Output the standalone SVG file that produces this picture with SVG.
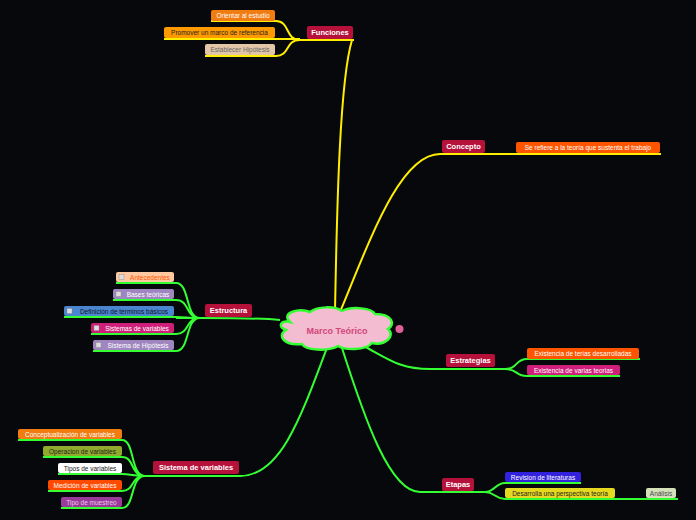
<svg xmlns="http://www.w3.org/2000/svg" width="696" height="520" viewBox="0 0 696 520">
<style>
.n rect{fill:#b5113a;rx:2}
.n text{font:bold 7.5px "Liberation Sans",sans-serif;fill:#fff;text-anchor:middle}
.c text{font:6.5px "Liberation Sans",sans-serif;text-anchor:middle}
.y{stroke:#ffee00;fill:none;stroke-width:2}
.g{stroke:#33ff33;fill:none;stroke-width:2}
.cb{fill:#ddd;stroke:#888;stroke-width:.4}
</style>
<rect width="696" height="520" fill="#06080b"/>
<g id="connectors">
<path class="y" d="M335 312 C337 200 340 80 352 40"/>
<path class="y" d="M300 40 H354 M300 40 C285 40 290 21 276 21 H211 M164 39 H300 M300 40 C285 40 290 56 276 56 H205"/>
<path class="y" d="M340 312 C370 240 400 154 440 154 H661"/>
<path class="g" d="M280 320 C260 318 230 318 200 318 H176 M200 318 C185 318 190 283 176 283 H116 M200 318 C185 318 190 300 176 300 H113 M200 318 C188 318 185 317 176 317 H64 M200 318 C185 318 190 334 176 334 H91 M200 318 C185 318 190 351 176 351 H93"/>
<path class="g" d="M328 345 C300 420 280 476 240 476 H145 M145 476 C130 476 135 440 122 440 H18 M145 476 C130 476 135 457 122 457 H43 M145 476 C135 476 130 474 122 474 H58 M145 476 C130 476 135 491 122 491 H48 M145 476 C130 476 135 508 122 508 H61"/>
<path class="g" d="M362 345 C390 360 400 369 430 369 H505 C518 369 515 359 527 359 H640 M505 369 C518 369 515 376 527 376 H620"/>
<path class="g" d="M342 348 C365 420 390 492 420 492 H485 C495 492 495 483 505 483 H581 M485 492 C495 492 495 499 505 499 H678"/>
</g>
<g id="center">
<path d="M290 322 C280 312 300 308 310 312 C318 306 335 306 342 311 C352 306 372 308 375 314 C392 314 396 324 388 329 C396 336 385 346 372 343 C365 351 345 350 338 346 C328 352 305 350 302 344 C285 346 276 336 286 330 C276 326 282 320 290 322 Z" fill="#f4bcd0" stroke="#33ff33" stroke-width="2.5"/>
<text x="337" y="334" font-family="Liberation Sans,sans-serif" font-size="9" font-weight="bold" fill="#d2457a" text-anchor="middle">Marco Teórico</text>
<circle cx="399.5" cy="329" r="4" fill="#e0609a"/>
</g>
<g id="funciones" class="n"><rect x="307" y="26" width="46" height="13"/><text x="330" y="35">Funciones</text></g>
<g id="concepto" class="n"><rect x="442" y="140" width="43" height="13"/><text x="463.5" y="149">Concepto</text></g>
<g id="estructura" class="n"><rect x="205" y="304" width="47" height="13"/><text x="228.5" y="313">Estructura</text></g>
<g id="sistvar" class="n"><rect x="153" y="461" width="86" height="13"/><text x="196" y="470">Sistema de variables</text></g>
<g id="estrategias" class="n"><rect x="446" y="354" width="49" height="13"/><text x="470.5" y="363">Estrategias</text></g>
<g id="etapas" class="n"><rect x="442" y="478" width="32" height="13"/><text x="458" y="487">Etapas</text></g>
<g class="c">
<g id="orientar"><rect x="211" y="10" width="64" height="11" rx="2" fill="#f07c12"/><text x="243" y="18" fill="#fff">Orientar al estudio</text></g>
<g id="promover"><rect x="164" y="27" width="111" height="11" rx="2" fill="#ff9900"/><text x="219.5" y="35" fill="#222">Promover un marco de referencia</text></g>
<g id="establecer"><rect x="205" y="44" width="70" height="11" rx="2" fill="#e3c6a8"/><text x="240" y="52" fill="#666">Establecer Hipótesis</text></g>
<g id="serefiere"><rect x="516" y="142" width="144" height="11" rx="2" fill="#ff5500"/><text x="588" y="150" fill="#fff">Se refiere a la teoría que sustenta el trabajo</text></g>
<g id="antecedentes"><rect x="116" y="272" width="58" height="10" rx="2" fill="#ffc8a0"/><rect class="cb" x="119" y="274.5" width="5" height="5"/><text x="150" y="279.5" fill="#ff5500">Antecedentes</text></g>
<g id="bases"><rect x="113" y="289" width="61" height="10" rx="2" fill="#9f86c0"/><rect class="cb" x="116" y="291.5" width="5" height="5"/><text x="148" y="296.5" fill="#fff">Bases teóricas</text></g>
<g id="definicion"><rect x="64" y="306" width="110" height="10" rx="2" fill="#4a86d0"/><rect class="cb" x="67" y="308.5" width="5" height="5"/><text x="124" y="313.5" fill="#112">Definición de términos básicos</text></g>
<g id="sistemas"><rect x="91" y="323" width="83" height="10" rx="2" fill="#d01f7a"/><rect class="cb" x="94" y="325.5" width="5" height="5"/><text x="137" y="330.5" fill="#fff">Sistemas de variables</text></g>
<g id="sisthip"><rect x="93" y="340" width="81" height="10" rx="2" fill="#9f86c0"/><rect class="cb" x="96" y="342.5" width="5" height="5"/><text x="138" y="347.5" fill="#fff">Sistema de Hipótesis</text></g>
<g id="concept"><rect x="18" y="429" width="104" height="10" rx="2" fill="#f07c12"/><text x="70" y="436.5" fill="#fff">Conceptualización de variables</text></g>
<g id="operacion"><rect x="43" y="446" width="79" height="10" rx="2" fill="#8faa2c"/><text x="82.5" y="453.5" fill="#222">Operacion de variables</text></g>
<g id="tipos"><rect x="58" y="463" width="64" height="10" rx="2" fill="#fff"/><text x="90" y="470.5" fill="#222">Tipos de variables</text></g>
<g id="medicion"><rect x="48" y="480" width="74" height="10" rx="2" fill="#ff4a00"/><text x="85" y="487.5" fill="#fff">Medición de variables</text></g>
<g id="muestreo"><rect x="61" y="497" width="61" height="10" rx="2" fill="#9b3a9b"/><text x="91.5" y="504.5" fill="#e8c8e8">Tipo de muestreo</text></g>
<g id="terias"><rect x="527" y="348" width="112" height="11" rx="2" fill="#ff5500"/><text x="583" y="356" fill="#fff">Existencia de terias desarrolladas</text></g>
<g id="varias"><rect x="527" y="365" width="93" height="10" rx="2" fill="#d01f7a"/><text x="573.5" y="372.5" fill="#fff">Existencia de varias teorias</text></g>
<g id="revision"><rect x="505" y="472" width="76" height="10" rx="2" fill="#3322dd"/><text x="543" y="479.5" fill="#fff">Revision de literaturas</text></g>
<g id="desarrolla"><rect x="505" y="488" width="110" height="10" rx="2" fill="#e6d81e"/><text x="560" y="495.5" fill="#222">Desarrolla una perspectiva teoría</text></g>
<g id="analisis"><rect x="646" y="488" width="30" height="10" rx="2" fill="#d6e0b8"/><text x="661" y="495.5" fill="#445">Análisis</text></g>
</g>
</svg>
